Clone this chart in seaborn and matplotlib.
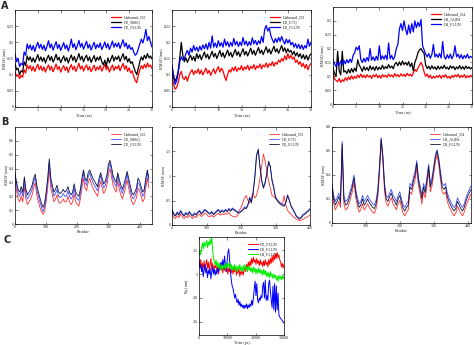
import numpy as np
import pandas as pd
import matplotlib
matplotlib.use("Agg")
import matplotlib.pyplot as plt
import seaborn as sns

# ---------------- data ----------------
# Panel A : RMSD (nm) vs time (ns), 91 samples 0..30 ns
time_ns = np.linspace(0, 30, 91)

a1_unbound = [0.110, 0.095, 0.100, 0.088, 0.098, 0.092, 0.115, 0.105,
              0.130, 0.118, 0.128, 0.112, 0.125, 0.110, 0.122, 0.132, 0.115, 0.127,
              0.112, 0.124, 0.108, 0.121, 0.130, 0.114, 0.126, 0.109, 0.120, 0.133,
              0.116, 0.125, 0.108, 0.119, 0.128, 0.113, 0.124, 0.107, 0.121, 0.131,
              0.115, 0.126, 0.110, 0.122, 0.135, 0.117, 0.127, 0.111, 0.123, 0.130,
              0.114, 0.125, 0.109, 0.120, 0.129, 0.112, 0.124, 0.116, 0.128, 0.111,
              0.121, 0.132, 0.115, 0.126, 0.108, 0.119, 0.130, 0.113, 0.125, 0.118,
              0.129, 0.112, 0.124, 0.135, 0.117, 0.128, 0.110, 0.121, 0.105, 0.112,
              0.095, 0.082, 0.075, 0.098, 0.115,
              0.128, 0.118, 0.132, 0.121, 0.136, 0.124, 0.130, 0.119]
a1_mut = [0.135, 0.115, 0.120, 0.100, 0.112, 0.108, 0.140, 0.128,
          0.158, 0.145, 0.155, 0.140, 0.152, 0.138, 0.150, 0.162, 0.143, 0.155,
          0.141, 0.153, 0.136, 0.150, 0.160, 0.144, 0.156, 0.139, 0.149, 0.163,
          0.145, 0.154, 0.137, 0.148, 0.158, 0.142, 0.153, 0.136, 0.150, 0.161,
          0.144, 0.156, 0.139, 0.151, 0.165, 0.146, 0.157, 0.140, 0.152, 0.160,
          0.143, 0.155, 0.138, 0.149, 0.159, 0.141, 0.154, 0.145, 0.157, 0.140,
          0.130, 0.145, 0.125, 0.152, 0.137, 0.148, 0.160, 0.142, 0.155, 0.147,
          0.158, 0.141, 0.153, 0.165, 0.146, 0.157, 0.139, 0.150, 0.135, 0.140,
          0.125, 0.110, 0.100, 0.120, 0.140,
          0.155, 0.145, 0.160, 0.150, 0.165, 0.152, 0.158, 0.148]
a1_flun = [0.165, 0.140, 0.150, 0.125, 0.135, 0.130, 0.170, 0.160,
           0.195, 0.180, 0.192, 0.176, 0.190, 0.172, 0.188, 0.200, 0.182, 0.194,
           0.178, 0.191, 0.174, 0.188, 0.205, 0.183, 0.195, 0.176, 0.189, 0.202,
           0.181, 0.193, 0.175, 0.187, 0.199, 0.180, 0.192, 0.173, 0.188, 0.210,
           0.184, 0.196, 0.177, 0.190, 0.206, 0.185, 0.197, 0.179, 0.191, 0.203,
           0.182, 0.194, 0.176, 0.189, 0.200, 0.180, 0.193, 0.184, 0.198, 0.178,
           0.188, 0.201, 0.183, 0.196, 0.178, 0.190, 0.204, 0.185, 0.197, 0.186,
           0.199, 0.181, 0.194, 0.208, 0.187, 0.198, 0.180, 0.192, 0.178, 0.184,
           0.170, 0.160, 0.165, 0.180, 0.195,
           0.210, 0.198, 0.215, 0.240, 0.205, 0.218, 0.200, 0.185]

a2_unbound = [0.100, 0.070, 0.055, 0.060, 0.075, 0.100, 0.110, 0.090,
              0.085, 0.095, 0.080, 0.098, 0.108, 0.115, 0.100, 0.112, 0.105, 0.118,
              0.102, 0.114, 0.099, 0.110, 0.120, 0.104, 0.113, 0.098, 0.109, 0.118,
              0.103, 0.115, 0.125, 0.108, 0.120, 0.112, 0.095, 0.082, 0.100, 0.115,
              0.108, 0.122, 0.112, 0.125, 0.110, 0.121, 0.115, 0.128, 0.113, 0.124,
              0.117, 0.129, 0.114, 0.126, 0.119, 0.131, 0.116, 0.127, 0.121, 0.133,
              0.118, 0.130, 0.124, 0.136, 0.122, 0.134, 0.128, 0.140, 0.126, 0.138,
              0.132, 0.145, 0.138, 0.150, 0.142, 0.158, 0.146, 0.165, 0.150, 0.160,
              0.148, 0.155, 0.138, 0.145, 0.132,
              0.140, 0.125, 0.135, 0.120, 0.132, 0.115, 0.128, 0.135]
a2_mut = [0.125, 0.095, 0.080, 0.090, 0.110, 0.150, 0.200, 0.160,
          0.140, 0.152, 0.138, 0.150, 0.160, 0.145, 0.156, 0.142, 0.165, 0.150,
          0.162, 0.146, 0.158, 0.170, 0.152, 0.163, 0.148, 0.160, 0.172, 0.155,
          0.166, 0.150, 0.162, 0.175, 0.156, 0.168, 0.152, 0.164, 0.176, 0.158,
          0.169, 0.154, 0.166, 0.178, 0.160, 0.171, 0.156, 0.168, 0.180, 0.161,
          0.172, 0.158, 0.170, 0.182, 0.163, 0.175, 0.160, 0.172, 0.184, 0.166,
          0.176, 0.162, 0.174, 0.186, 0.168, 0.179, 0.164, 0.176, 0.188, 0.170,
          0.180, 0.166, 0.178, 0.190, 0.172, 0.183, 0.168, 0.180, 0.170, 0.175,
          0.162, 0.172, 0.158, 0.168, 0.155,
          0.165, 0.150, 0.162, 0.148, 0.160, 0.145, 0.158, 0.165]
a2_flun = [0.130, 0.095, 0.070, 0.080, 0.105, 0.140, 0.155, 0.145,
           0.150, 0.165, 0.175, 0.160, 0.182, 0.170, 0.190, 0.175, 0.185, 0.172,
           0.188, 0.176, 0.192, 0.180, 0.195, 0.178, 0.200, 0.182, 0.220, 0.185,
           0.198, 0.184, 0.205, 0.188, 0.199, 0.185, 0.210, 0.190, 0.202, 0.186,
           0.200, 0.188, 0.212, 0.192, 0.203, 0.187, 0.201, 0.190, 0.215, 0.193,
           0.204, 0.189, 0.202, 0.191, 0.214, 0.195, 0.206, 0.192, 0.205, 0.196,
           0.218, 0.200, 0.240, 0.252, 0.235, 0.245, 0.220, 0.208, 0.198, 0.212,
           0.200, 0.215, 0.203, 0.218, 0.205, 0.195, 0.210, 0.198, 0.208, 0.192,
           0.200, 0.185, 0.196, 0.182, 0.194,
           0.180, 0.192, 0.178, 0.190, 0.182, 0.210, 0.188, 0.200]

a3_unbound = [0.110, 0.090, 0.085, 0.080, 0.092, 0.078, 0.088, 0.082,
              0.095, 0.085, 0.098, 0.088, 0.102, 0.090, 0.100, 0.093, 0.105, 0.095,
              0.108, 0.096, 0.104, 0.094, 0.106, 0.097, 0.103, 0.092, 0.105, 0.098,
              0.107, 0.095, 0.103, 0.093, 0.106, 0.098, 0.104, 0.096, 0.108, 0.099,
              0.105, 0.097, 0.110, 0.100, 0.106, 0.098, 0.109, 0.101, 0.107, 0.099,
              0.111, 0.102, 0.108, 0.100, 0.112, 0.125, 0.118, 0.130, 0.140, 0.150,
              0.138, 0.115, 0.100, 0.108, 0.095, 0.104, 0.092, 0.100, 0.094, 0.102,
              0.096, 0.105, 0.093, 0.103, 0.097, 0.106, 0.094, 0.100, 0.092, 0.103,
              0.096, 0.105, 0.098, 0.107, 0.095,
              0.103, 0.097, 0.106, 0.094, 0.102, 0.096, 0.104, 0.098]
a3_mut = [0.130, 0.110, 0.100, 0.190, 0.120, 0.105, 0.190, 0.115,
          0.120, 0.110, 0.125, 0.112, 0.128, 0.115, 0.130, 0.118, 0.160, 0.140,
          0.130, 0.118, 0.135, 0.122, 0.132, 0.120, 0.138, 0.124, 0.134, 0.121,
          0.136, 0.123, 0.133, 0.125, 0.140, 0.126, 0.135, 0.128, 0.142, 0.130,
          0.137, 0.127, 0.144, 0.150, 0.138, 0.152, 0.140, 0.155, 0.142, 0.150,
          0.140, 0.153, 0.135, 0.148, 0.120, 0.150, 0.165, 0.185, 0.195, 0.200,
          0.190, 0.182, 0.140, 0.128, 0.136, 0.125, 0.138, 0.127, 0.134, 0.124,
          0.137, 0.126, 0.135, 0.128, 0.140, 0.127, 0.133, 0.125, 0.138, 0.129,
          0.136, 0.124, 0.134, 0.127, 0.139,
          0.126, 0.135, 0.125, 0.137, 0.128, 0.134, 0.126, 0.132]
a3_flun = [0.160, 0.145, 0.135, 0.150, 0.140, 0.155, 0.142, 0.158,
           0.145, 0.160, 0.148, 0.162, 0.150, 0.175, 0.185, 0.205, 0.195, 0.210,
           0.160, 0.150, 0.165, 0.152, 0.168, 0.155, 0.200, 0.158, 0.170, 0.156,
           0.172, 0.158, 0.210, 0.160, 0.174, 0.162, 0.176, 0.160, 0.220, 0.163,
           0.175, 0.160, 0.172, 0.200, 0.215, 0.270, 0.290, 0.265, 0.300, 0.270,
           0.250, 0.285, 0.255, 0.290, 0.260, 0.300, 0.275, 0.295, 0.280, 0.305,
           0.210, 0.195, 0.180, 0.170, 0.182, 0.165, 0.178, 0.215, 0.170, 0.180,
           0.168, 0.182, 0.166, 0.225, 0.172, 0.162, 0.178, 0.165, 0.180, 0.163,
           0.176, 0.210, 0.170, 0.180, 0.165,
           0.178, 0.163, 0.175, 0.166, 0.180, 0.165, 0.172, 0.168]

# Panel B : RMSF (nm) per residue
res_b1 = np.arange(0, 431, 5)
b1_mut = [0.35,0.28,0.22,0.20,0.24,0.20,0.31,0.22,0.18,0.20,
          0.22,0.25,0.30,0.34,0.25,0.20,0.16,0.12,0.09,0.12,
          0.20,0.30,0.44,0.30,0.25,0.20,0.22,0.25,0.20,0.19,
          0.20,0.22,0.20,0.20,0.24,0.20,0.18,0.20,0.26,0.20,
          0.18,0.17,0.22,0.30,0.37,0.30,0.28,0.34,0.37,0.33,
          0.30,0.28,0.26,0.24,0.30,0.35,0.30,0.26,0.28,0.32,
          0.40,0.44,0.38,0.32,0.29,0.27,0.35,0.29,0.25,0.22,
          0.26,0.30,0.36,0.30,0.25,0.20,0.18,0.20,0.23,0.30,
          0.28,0.24,0.20,0.22,0.30,0.37,0.30]
b1_unbound = [0.31,0.24,0.18,0.16,0.20,0.16,0.27,0.18,0.14,0.16,
              0.18,0.21,0.26,0.30,0.21,0.16,0.12,0.09,0.07,0.09,
              0.16,0.26,0.40,0.26,0.21,0.16,0.18,0.21,0.16,0.15,
              0.16,0.18,0.16,0.16,0.20,0.16,0.14,0.16,0.22,0.16,
              0.14,0.13,0.18,0.26,0.33,0.26,0.24,0.30,0.33,0.29,
              0.26,0.24,0.22,0.20,0.26,0.31,0.26,0.22,0.24,0.28,
              0.36,0.40,0.34,0.28,0.25,0.23,0.31,0.25,0.21,0.18,
              0.22,0.26,0.32,0.26,0.21,0.16,0.14,0.16,0.19,0.26,
              0.24,0.20,0.16,0.18,0.26,0.33,0.26]
b1_flun = [0.37,0.30,0.25,0.23,0.27,0.23,0.34,0.25,0.21,0.23,
           0.25,0.28,0.33,0.36,0.28,0.23,0.19,0.15,0.12,0.15,
           0.23,0.33,0.47,0.33,0.28,0.23,0.25,0.28,0.23,0.22,
           0.23,0.25,0.23,0.24,0.27,0.23,0.21,0.23,0.29,0.23,
           0.21,0.20,0.25,0.33,0.39,0.33,0.31,0.37,0.39,0.36,
           0.33,0.31,0.29,0.27,0.33,0.37,0.33,0.29,0.31,0.35,
           0.43,0.46,0.41,0.35,0.32,0.30,0.37,0.32,0.28,0.25,
           0.29,0.33,0.38,0.33,0.28,0.23,0.21,0.23,0.26,0.33,
           0.31,0.27,0.23,0.25,0.33,0.39,0.33]

res_b2 = np.arange(0, 401, 5)
b2_unbound = [0.24,0.16,0.13,0.19,0.15,0.22,0.17,0.13,0.18,0.15,
              0.20,0.16,0.13,0.18,0.15,0.20,0.22,0.17,0.21,0.24,
              0.22,0.18,0.17,0.20,0.16,0.19,0.22,0.24,0.20,0.23,
              0.21,0.24,0.22,0.26,0.20,0.18,0.17,0.16,0.20,0.30,
              0.35,0.45,0.55,0.60,0.50,0.45,0.55,0.65,0.55,0.60,
              0.75,0.95,1.20,1.45,1.30,1.10,0.90,0.75,0.60,0.58,
              0.55,0.50,0.48,0.45,0.42,0.60,0.40,0.30,0.25,0.22,
              0.18,0.15,0.12,0.10,0.09,0.10,0.12,0.14,0.16,0.18,0.20]
b2_mut = [0.32,0.24,0.20,0.27,0.22,0.30,0.24,0.20,0.26,0.22,
          0.28,0.23,0.20,0.25,0.22,0.27,0.30,0.24,0.28,0.32,
          0.30,0.26,0.24,0.28,0.23,0.26,0.30,0.32,0.27,0.31,
          0.28,0.32,0.29,0.34,0.30,0.35,0.32,0.30,0.27,0.26,
          0.29,0.32,0.37,0.35,0.42,0.57,0.48,0.68,1.00,1.45,
          1.52,1.18,0.92,0.78,0.88,1.08,1.28,1.18,0.92,0.78,
          0.58,0.52,0.47,0.44,0.42,0.40,0.47,0.62,0.52,0.40,
          0.34,0.27,0.20,0.16,0.14,0.17,0.22,0.24,0.27,0.30,0.34]
b2_flun = [0.30,0.22,0.18,0.25,0.20,0.28,0.22,0.18,0.24,0.20,
           0.26,0.21,0.18,0.23,0.20,0.25,0.28,0.22,0.26,0.30,
           0.28,0.24,0.22,0.26,0.21,0.24,0.28,0.30,0.25,0.29,
           0.26,0.30,0.27,0.32,0.28,0.33,0.30,0.28,0.25,0.24,
           0.27,0.30,0.35,0.33,0.40,0.55,0.45,0.65,0.95,1.40,
           1.55,1.20,0.90,0.75,0.85,1.05,1.30,1.20,0.90,0.75,
           0.55,0.50,0.45,0.42,0.40,0.38,0.45,0.60,0.50,0.38,
           0.32,0.25,0.18,0.14,0.12,0.15,0.20,0.22,0.25,0.28,0.32]

res_b3 = np.arange(0, 411, 5)
b3_unbound = [0.26,0.16,0.11,0.14,0.18,0.13,0.62,0.16,0.11,0.12,
              0.16,0.21,0.26,0.34,0.21,0.14,0.09,0.11,0.16,0.11,
              0.13,0.16,0.13,0.11,0.09,0.08,0.12,0.21,0.41,0.68,
              0.51,0.26,0.16,0.14,0.18,0.21,0.16,0.14,0.11,0.16,
              0.19,0.13,0.08,0.06,0.09,0.11,0.26,0.24,0.31,0.36,
              0.46,0.31,0.24,0.16,0.26,0.21,0.31,0.43,0.26,0.31,
              0.41,0.51,0.57,0.48,0.36,0.26,0.24,0.26,0.18,0.14,
              0.11,0.08,0.06,0.08,0.14,0.11,0.08,0.06,0.09,0.14,
              0.18,0.21,0.24]
b3_mut = [0.33,0.23,0.18,0.21,0.25,0.20,0.68,0.23,0.18,0.19,
          0.23,0.28,0.33,0.40,0.28,0.21,0.16,0.18,0.23,0.18,
          0.20,0.23,0.20,0.18,0.16,0.15,0.19,0.28,0.48,0.71,
          0.57,0.33,0.23,0.21,0.25,0.28,0.23,0.21,0.18,0.23,
          0.26,0.20,0.15,0.13,0.16,0.18,0.33,0.31,0.38,0.43,
          0.52,0.38,0.31,0.23,0.33,0.28,0.38,0.49,0.33,0.38,
          0.47,0.57,0.61,0.54,0.43,0.33,0.31,0.33,0.25,0.21,
          0.18,0.15,0.13,0.15,0.21,0.18,0.15,0.13,0.16,0.21,
          0.25,0.28,0.31]
b3_flun = [0.30,0.20,0.15,0.18,0.22,0.17,0.66,0.20,0.15,0.16,
           0.20,0.25,0.30,0.38,0.25,0.18,0.13,0.15,0.20,0.15,
           0.17,0.20,0.17,0.15,0.13,0.12,0.16,0.25,0.45,0.70,
           0.55,0.30,0.20,0.18,0.22,0.25,0.20,0.18,0.15,0.20,
           0.23,0.17,0.12,0.10,0.13,0.15,0.30,0.28,0.35,0.40,
           0.50,0.35,0.28,0.20,0.30,0.25,0.35,0.47,0.30,0.35,
           0.45,0.55,0.60,0.52,0.40,0.30,0.28,0.30,0.22,0.18,
           0.15,0.12,0.10,0.12,0.18,0.15,0.12,0.10,0.13,0.18,
           0.22,0.25,0.28]

# Panel C : Rg (nm) vs time (ps)
time_ps = np.arange(0, 30001, 300)
c_d2 = [3.10,3.06,3.12,3.04,3.09,3.05,3.11,3.03,3.08,3.12,
        3.05,3.10,3.03,3.08,3.13,3.04,3.09,3.02,3.07,3.05,
        3.08,3.02,3.06,3.00,3.05,3.09,3.03,3.06,3.01,3.07,
        3.03,3.08,3.02,3.06,3.00,3.05,3.02,3.07,3.01,3.04,
        3.00,3.05,3.02,3.06,2.99,3.03,3.01,3.05,2.98,3.02,
        3.00,3.04,2.99,3.03,3.06,3.02,3.08,3.04,3.10,3.06,
        3.11,3.07,3.13,3.09,3.14,3.10,3.12,3.08,3.13,3.09,
        3.11,3.07,3.12,3.08,3.10,3.06,3.11,3.07,3.12,3.08,
        3.10,3.06,3.12,3.08,3.13,3.09,3.15,3.10,3.16,3.12,
        3.17,3.13,3.18,3.14,3.16,3.12,3.10,3.06,3.09,3.05,3.08]
c_d3 = [3.12,3.05,3.08,3.02,3.06,2.98,3.04,3.08,3.01,3.05,
        2.97,3.03,3.00,3.05,2.96,3.02,3.06,3.00,3.04,2.99,
        3.03,3.00,3.05,3.02,3.08,3.04,3.10,3.06,3.12,3.05,
        3.15,3.08,3.02,3.10,3.18,3.21,3.12,3.02,2.95,2.90,
        2.88,2.84,2.80,2.83,2.78,2.76,2.79,2.74,2.77,2.73,
        2.75,2.72,2.74,2.71,2.74,2.72,2.75,2.71,2.74,2.72,
        2.75,2.73,2.78,2.74,2.80,2.88,2.94,2.82,2.92,2.78,
        2.76,2.80,2.78,2.82,2.80,2.90,2.93,2.80,2.95,2.78,
        2.82,2.78,2.92,2.95,2.86,2.78,2.72,2.90,2.70,2.92,
        2.68,2.90,2.70,2.84,2.66,2.64,2.63,2.62,2.61,2.60,2.59]
c_d4 = [3.15,3.20,3.16,3.22,3.26,3.21,3.27,3.23,3.25,3.28,
        3.22,3.27,3.24,3.29,3.25,3.31,3.20,3.14,3.10,3.08,
        3.12,3.06,3.10,3.05,3.09,3.04,3.08,3.03,3.07,3.05,
        3.09,3.04,3.08,3.05,3.10,3.06,3.09,3.04,3.08,3.03,
        3.07,3.04,3.08,3.03,3.06,3.02,3.07,3.04,3.08,3.03,
        3.06,3.02,3.07,3.03,3.08,3.04,3.06,3.02,3.07,3.03,
        3.06,3.02,3.05,3.01,3.06,3.02,3.05,3.00,3.04,3.01,
        3.05,3.01,3.04,3.00,3.03,2.99,3.04,3.00,3.03,2.98,
        3.02,2.98,3.01,2.97,3.02,2.98,3.00,2.96,3.00,2.97,
        2.99,2.95,2.98,2.94,2.99,2.96,2.98,2.95,2.99,2.96,2.98]

labels_a = [["Unbound_D2", "D2_R86Q", "D2_FLUN"],
            ["Unbound_D3", "D3_E7Q", "D3_FLUN"],
            ["Unbound_D4", "D4_AQB1", "D4_FLUN"]]
c_labels = ["D2_FLUN", "D3_FLUN", "D4_FLUN"]

# ---------------- style ----------------
sns.set_style("ticks")
plt.rcParams["font.family"] = ["Liberation Serif", "DejaVu Serif"]
plt.rcParams["axes.linewidth"] = 0.5
FS = 3.0

fig = plt.figure(figsize=(4.74, 3.45), dpi=100)
W, H = 474.0, 345.0


def make_ax(l, t, r, b):
    return fig.add_axes([l / W, 1 - b / H, (r - l) / W, (b - t) / H])


def style_ax(ax, xlim, ylim, xticks, yticks, xlabel, ylabel, yfmt=None):
    ax.set_xlim(*xlim)
    ax.set_ylim(*ylim)
    ax.set_xticks(xticks)
    ax.set_yticks(yticks)
    if yfmt:
        ax.set_yticklabels(yfmt)
    ax.set_xlabel(xlabel, fontsize=FS, labelpad=0.8)
    ax.set_ylabel(ylabel, fontsize=FS, labelpad=0.6)
    ax.tick_params(direction="in", top=True, right=True, length=1.8,
                   width=0.4, labelsize=FS, pad=0.7)
    for s in ax.spines.values():
        s.set_color("black")
        s.set_linewidth(0.5)


def legend(ax, loc="upper right", bbox=None):
    kw = dict(loc=loc, fontsize=FS, frameon=False, handlelength=2.4,
              labelspacing=0.2, borderaxespad=1.0, handletextpad=0.6)
    if bbox is not None:
        kw["bbox_to_anchor"] = bbox
    ax.legend(**kw)


def fmt(vals):
    return ["%g" % v for v in vals]


# ---------------- Panel A ----------------
a_boxes = [(15, 10, 152, 107), (172, 10, 311, 107), (333, 7, 472, 104)]
a_data = [(a1_unbound, a1_mut, a1_flun), (a2_unbound, a2_mut, a2_flun),
          (a3_unbound, a3_mut, a3_flun)]
a_ylims = [(0, 0.3), (0, 0.3), (0, 0.35)]
a_yticks = [[0, 0.05, 0.1, 0.15, 0.2, 0.25], [0, 0.05, 0.1, 0.15, 0.2, 0.25],
            [0, 0.05, 0.1, 0.15, 0.2, 0.25, 0.3]]
a_colors = ["#ff0000", "#000000", "#0000ff"]
for i in range(3):
    ax = make_ax(*a_boxes[i])
    for ser, col, lab in zip(a_data[i], a_colors, labels_a[i]):
        sns.lineplot(x=time_ns, y=ser, color=col, lw=0.9, ax=ax, label=lab,
                     estimator=None, sort=False)
    style_ax(ax, (0, 30), a_ylims[i], [0, 5, 10, 15, 20, 25, 30], a_yticks[i],
             "Time (ns)", "RMSD (nm)", fmt(a_yticks[i]))
    legend(ax)

# ---------------- Panel B ----------------
b_boxes = [(15, 127, 152, 224), (172, 127, 310, 225), (332, 127, 471, 223)]
b_x = [res_b1, res_b2, res_b3]
b_data = [(b1_unbound, b1_mut, b1_flun), (b2_unbound, b2_mut, b2_flun),
          (b3_unbound, b3_mut, b3_flun)]
b_xlims = [(0, 440), (0, 400), (0, 410)]
b_ylims = [(0, 0.7), (0, 2), (0, 0.8)]
b_yticks = [[0, 0.1, 0.2, 0.3, 0.4, 0.5, 0.6], [0, 0.5, 1, 1.5, 2],
            [0, 0.2, 0.4, 0.6, 0.8]]
b_colors = ["#ff3030", "#4050ff", "#101040"]
for i in range(3):
    ax = make_ax(*b_boxes[i])
    for ser, col, lab in zip(b_data[i], b_colors, labels_a[i]):
        sns.lineplot(x=b_x[i], y=ser, color=col, lw=0.6, ax=ax, label=lab,
                     estimator=None, sort=False)
    style_ax(ax, b_xlims[i], b_ylims[i], [0, 100, 200, 300, 400], b_yticks[i],
             "Residue", "RMSF (nm)", fmt(b_yticks[i]))
    legend(ax)

# ---------------- Panel C ----------------
ax = make_ax(199, 237, 284, 335)
for ser, col, lab in zip([c_d2, c_d3, c_d4], ["#ff0000", "#0000ff", "#00ee00"],
                         c_labels):
    sns.lineplot(x=time_ps, y=ser, color=col, lw=0.7, ax=ax, label=lab,
                 estimator=None, sort=False)
style_ax(ax, (0, 30000), (2.49, 3.31), [0, 10000, 20000, 30000],
         [2.6, 2.8, 3.0, 3.2], "Time (ps)", "R$_g$ (nm)",
         ["2.6", "2.8", "3", "3.2"])
legend(ax)

# panel letters
for txt, x, y in [("A", 1, 1), ("B", 1, 117), ("C", 4, 235)]:
    fig.text(x / W, 1 - y / H, txt, fontsize=7, fontweight="bold",
             family="DejaVu Sans", va="top", ha="left")

fig.savefig("out.png", dpi=100)
